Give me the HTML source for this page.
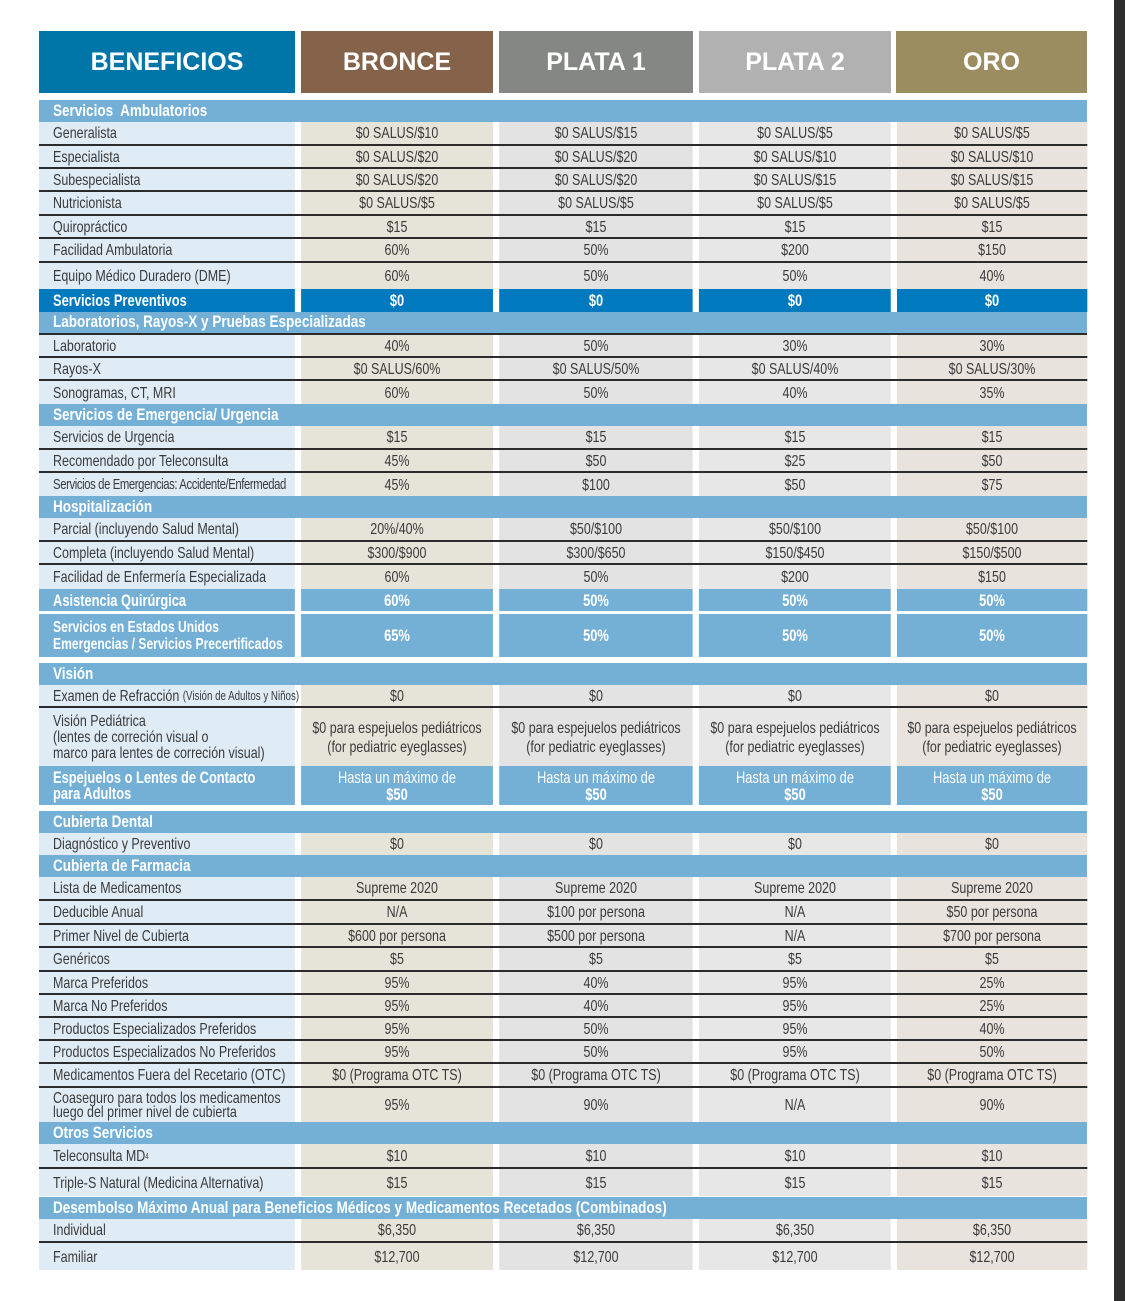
<!DOCTYPE html>
<html><head><meta charset="utf-8"><style>
*{box-sizing:border-box;margin:0;padding:0}
body{width:1125px;height:1301px;background:#fff;position:relative;overflow:hidden;font-family:"Liberation Sans Narrow","Liberation Sans",sans-serif;color:#3a3a3a}
.strip{position:absolute;left:1114px;top:0;width:11px;height:1301px;background:#2e2e2e}
.r{position:absolute;left:39px;width:1343.6px;transform:scaleX(.78);transform-origin:0 0;display:grid;grid-template-columns:328.2px 246.2px 248.7px 246.2px 243.6px;column-gap:7.69px}
.r>div{display:flex;align-items:center;justify-content:center;text-align:center;font-size:16px;line-height:1;white-space:nowrap;padding-top:2px}
.r>div:first-child{justify-content:flex-start;text-align:left;padding-left:18px}
.d>div:nth-child(1){background:#dfecf6}
.d>div:nth-child(2){background:#e6e4d9}
.d>div:nth-child(3){background:#e3e3e3}
.d>div:nth-child(4){background:#e7e7e7}
.d>div:nth-child(5){background:#e8e3dd}
.l{border-bottom:2px solid #2b2b2b}
.b{position:absolute;left:39px;width:1278px;transform:scaleX(.82);transform-origin:0 0;background:#74b0d6;color:#fff;font-weight:bold;font-size:16.5px;padding-left:17px;display:flex;align-items:center;white-space:nowrap}
.bv>div{background:#74b0d6;color:#fff;font-weight:bold;font-size:16.5px}
.dk>div{background:#0079be;color:#fff;font-weight:bold;font-size:16.5px}
.h{position:absolute;top:31px;height:62px;color:#fff;font-family:"Liberation Sans",sans-serif;font-weight:bold;font-size:25px;display:flex;align-items:center;justify-content:center}
.sm{font-size:12.5px}
</style></head><body>
<div class="strip"></div>
<div class="h" style="left:39px;width:256px;background:#0076a8">BENEFICIOS</div>
<div class="h" style="left:301px;width:192px;background:#85634b">BRONCE</div>
<div class="h" style="left:499px;width:194px;background:#858784">PLATA 1</div>
<div class="h" style="left:699px;width:192px;background:#b1b1b1">PLATA 2</div>
<div class="h" style="left:896px;width:191px;background:#9b8d5f">ORO</div>

<div class="b" style="top:100px;height:22px">Servicios&nbsp; Ambulatorios</div>
<div class="r d l" style="top:122px;height:24px"><div>Generalista</div><div>$0 SALUS/$10</div><div>$0 SALUS/$15</div><div>$0 SALUS/$5</div><div>$0 SALUS/$5</div></div>
<div class="r d l" style="top:146px;height:23px"><div>Especialista</div><div>$0 SALUS/$20</div><div>$0 SALUS/$20</div><div>$0 SALUS/$10</div><div>$0 SALUS/$10</div></div>
<div class="r d l" style="top:169px;height:23px"><div>Subespecialista</div><div>$0 SALUS/$20</div><div>$0 SALUS/$20</div><div>$0 SALUS/$15</div><div>$0 SALUS/$15</div></div>
<div class="r d l" style="top:192px;height:24px"><div>Nutricionista</div><div>$0 SALUS/$5</div><div>$0 SALUS/$5</div><div>$0 SALUS/$5</div><div>$0 SALUS/$5</div></div>
<div class="r d l" style="top:216px;height:23px"><div>Quiropráctico</div><div>$15</div><div>$15</div><div>$15</div><div>$15</div></div>
<div class="r d l" style="top:239px;height:24px"><div>Facilidad Ambulatoria</div><div>60%</div><div>50%</div><div>$200</div><div>$150</div></div>
<div class="r d" style="top:263px;height:26px"><div>Equipo Médico Duradero (DME)</div><div>60%</div><div>50%</div><div>50%</div><div>40%</div></div>
<div class="r dk" style="top:289px;height:23px"><div>Servicios Preventivos</div><div>$0</div><div>$0</div><div>$0</div><div>$0</div></div>
<div class="b l" style="top:312px;height:23px">Laboratorios, Rayos-X y Pruebas Especializadas</div>
<div class="r d l" style="top:335px;height:23px"><div>Laboratorio</div><div>40%</div><div>50%</div><div>30%</div><div>30%</div></div>
<div class="r d l" style="top:358px;height:23px"><div>Rayos-X</div><div>$0 SALUS/60%</div><div>$0 SALUS/50%</div><div>$0 SALUS/40%</div><div>$0 SALUS/30%</div></div>
<div class="r d" style="top:381px;height:23px"><div>Sonogramas, CT, MRI</div><div>60%</div><div>50%</div><div>40%</div><div>35%</div></div>
<div class="b" style="top:404px;height:22px">Servicios de Emergencia/ Urgencia</div>
<div class="r d l" style="top:426px;height:24px"><div>Servicios de Urgencia</div><div>$15</div><div>$15</div><div>$15</div><div>$15</div></div>
<div class="r d l" style="top:450px;height:23px"><div>Recomendado por Teleconsulta</div><div>45%</div><div>$50</div><div>$25</div><div>$50</div></div>
<div class="r d" style="top:473px;height:23px"><div style="font-size:14.5px;letter-spacing:-0.5px">Servicios de Emergencias: Accidente/Enfermedad</div><div>45%</div><div>$100</div><div>$50</div><div>$75</div></div>
<div class="b" style="top:496px;height:22px">Hospitalización</div>
<div class="r d l" style="top:518px;height:24px"><div>Parcial (incluyendo Salud Mental)</div><div>20%/40%</div><div>$50/$100</div><div>$50/$100</div><div>$50/$100</div></div>
<div class="r d l" style="top:542px;height:23px"><div>Completa (incluyendo Salud Mental)</div><div>$300/$900</div><div>$300/$650</div><div>$150/$450</div><div>$150/$500</div></div>
<div class="r d" style="top:565px;height:24px"><div>Facilidad de Enfermería Especializada</div><div>60%</div><div>50%</div><div>$200</div><div>$150</div></div>
<div class="r bv" style="top:589px;height:22px"><div>Asistencia Quirúrgica</div><div>60%</div><div>50%</div><div>50%</div><div>50%</div></div>
<div class="r bv" style="top:614px;height:43px"><div style="line-height:1.05;font-size:15.5px">Servicios en Estados Unidos<br>Emergencias / Servicios Precertificados</div><div>65%</div><div>50%</div><div>50%</div><div>50%</div></div>
<div class="b" style="top:663px;height:22px">Visión</div>
<div class="r d l" style="top:685px;height:23px"><div>Examen de Refracción&nbsp;<span class="sm">(Visión de Adultos y Niños)</span></div><div>$0</div><div>$0</div><div>$0</div><div>$0</div></div>
<div class="r d" style="top:708px;height:58px"><div style="line-height:1.02">Visión Pediátrica<br>(lentes de correción visual o<br>marco para lentes de correción visual)</div><div style="line-height:1.2">$0 para espejuelos pediátricos<br>(for pediatric eyeglasses)</div><div style="line-height:1.2">$0 para espejuelos pediátricos<br>(for pediatric eyeglasses)</div><div style="line-height:1.2">$0 para espejuelos pediátricos<br>(for pediatric eyeglasses)</div><div style="line-height:1.2">$0 para espejuelos pediátricos<br>(for pediatric eyeglasses)</div></div>
<div class="r bv" style="top:766px;height:39px"><div style="line-height:0.95">Espejuelos o Lentes de Contacto<br>para Adultos</div><div style="line-height:1;font-weight:normal;flex-direction:column">Hasta un máximo de<b>$50</b></div><div style="line-height:1;font-weight:normal;flex-direction:column">Hasta un máximo de<b>$50</b></div><div style="line-height:1;font-weight:normal;flex-direction:column">Hasta un máximo de<b>$50</b></div><div style="line-height:1;font-weight:normal;flex-direction:column">Hasta un máximo de<b>$50</b></div></div>
<div class="b" style="top:811px;height:22px">Cubierta Dental</div>
<div class="r d" style="top:833px;height:22px"><div>Diagnóstico y Preventivo</div><div>$0</div><div>$0</div><div>$0</div><div>$0</div></div>
<div class="b" style="top:855px;height:22px">Cubierta de Farmacia</div>
<div class="r d l" style="top:877px;height:24px"><div>Lista de Medicamentos</div><div>Supreme 2020</div><div>Supreme 2020</div><div>Supreme 2020</div><div>Supreme 2020</div></div>
<div class="r d l" style="top:901px;height:24px"><div>Deducible Anual</div><div>N/A</div><div>$100 por persona</div><div>N/A</div><div>$50 por persona</div></div>
<div class="r d l" style="top:925px;height:23px"><div>Primer Nivel de Cubierta</div><div>$600 por persona</div><div>$500 por persona</div><div>N/A</div><div>$700 por persona</div></div>
<div class="r d l" style="top:948px;height:24px"><div>Genéricos</div><div>$5</div><div>$5</div><div>$5</div><div>$5</div></div>
<div class="r d l" style="top:972px;height:23px"><div>Marca Preferidos</div><div>95%</div><div>40%</div><div>95%</div><div>25%</div></div>
<div class="r d l" style="top:995px;height:23px"><div>Marca No Preferidos</div><div>95%</div><div>40%</div><div>95%</div><div>25%</div></div>
<div class="r d l" style="top:1018px;height:23px"><div>Productos Especializados Preferidos</div><div>95%</div><div>50%</div><div>95%</div><div>40%</div></div>
<div class="r d l" style="top:1041px;height:23px"><div>Productos Especializados No Preferidos</div><div>95%</div><div>50%</div><div>95%</div><div>50%</div></div>
<div class="r d l" style="top:1064px;height:24px"><div>Medicamentos Fuera del Recetario (OTC)</div><div>$0 (Programa OTC TS)</div><div>$0 (Programa OTC TS)</div><div>$0 (Programa OTC TS)</div><div>$0 (Programa OTC TS)</div></div>
<div class="r d" style="top:1088px;height:34px"><div style="line-height:0.9">Coaseguro para todos los medicamentos<br>luego del primer nivel de cubierta</div><div>95%</div><div>90%</div><div>N/A</div><div>90%</div></div>
<div class="b" style="top:1122px;height:22px">Otros Servicios</div>
<div class="r d l" style="top:1144px;height:25px"><div>Teleconsulta MD<sup style="font-size:8px">4</sup></div><div>$10</div><div>$10</div><div>$10</div><div>$10</div></div>
<div class="r d" style="top:1169px;height:27px"><div>Triple-S Natural (Medicina Alternativa)</div><div>$15</div><div>$15</div><div>$15</div><div>$15</div></div>
<div class="b" style="top:1197px;height:22px">Desembolso Máximo Anual para Beneficios Médicos y Medicamentos Recetados (Combinados)</div>
<div class="r d l" style="top:1219px;height:24px"><div>Individual</div><div>$6,350</div><div>$6,350</div><div>$6,350</div><div>$6,350</div></div>
<div class="r d" style="top:1243px;height:27px"><div>Familiar</div><div>$12,700</div><div>$12,700</div><div>$12,700</div><div>$12,700</div></div>
</body></html>
